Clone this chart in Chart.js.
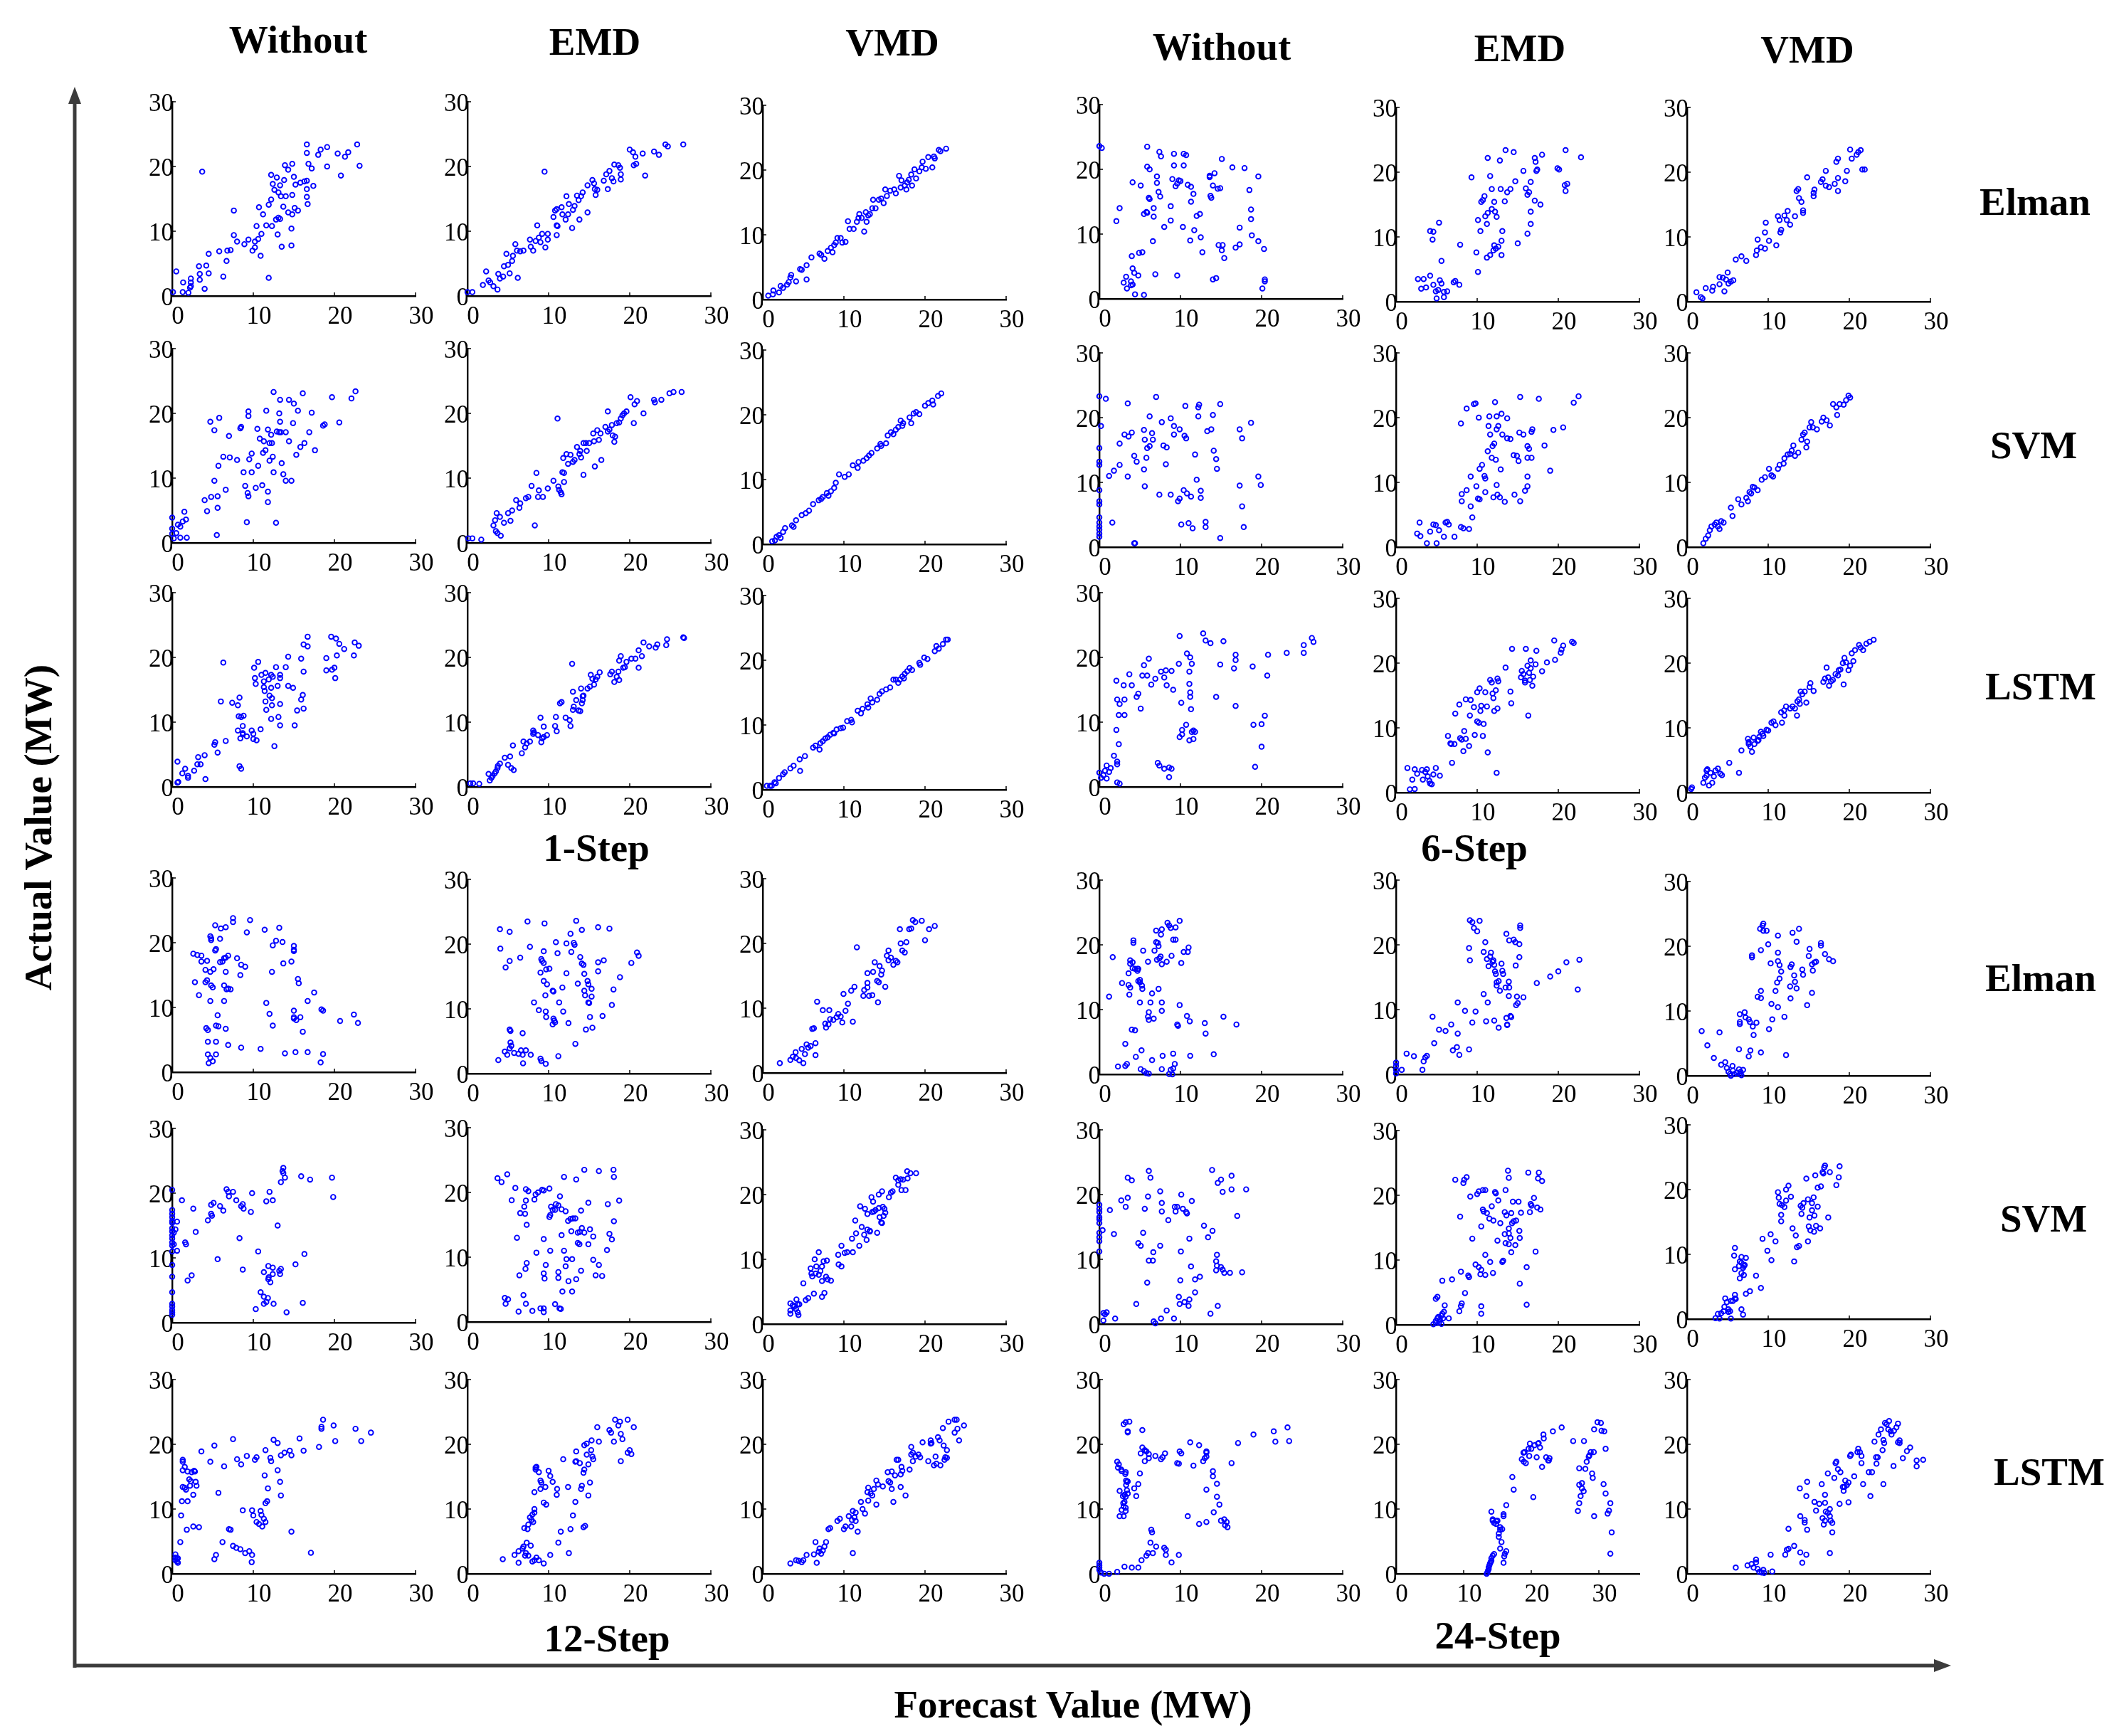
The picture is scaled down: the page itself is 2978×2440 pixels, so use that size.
<!DOCTYPE html>
<html>
<head>
<meta charset="utf-8">
<script src="https://cdn.jsdelivr.net/npm/chart.js@4.4.1/dist/chart.umd.min.js"></script>
<style>
  html, body { margin: 0; padding: 0; background: #fff; }
  #page { position: relative; width: 2978px; height: 2440px; overflow: hidden; background: #fff;
          font-family: 'Liberation Serif', 'Times New Roman', serif; }
  #page canvas { position: absolute; }
  .lbl { position: absolute; transform: translate(-50%, -50%); white-space: nowrap;
         font-weight: bold; font-size: 55px; line-height: 1; color: #000; }
  .ylab { transform: translate(-50%, -50%) rotate(-90deg); }
  svg { position: absolute; left: 0; top: 0; }
</style>
</head>
<body>
<div id="page">
  <svg width="2978" height="2440">
    <line x1="105" y1="2344" x2="105" y2="140" stroke="#3c3c3c" stroke-width="5"/>
    <polygon points="105,122 96,146 114,146" fill="#3c3c3c"/>
    <line x1="103" y1="2341" x2="2722" y2="2341" stroke="#3c3c3c" stroke-width="5"/>
    <polygon points="2742,2341 2718,2332 2718,2350" fill="#3c3c3c"/>
  </svg>
</div>
<script>
// ===== categories / ticks =====
const methods = ['Without', 'EMD', 'VMD'];
const models = ['Elman', 'SVM', 'LSTM'];
const steps = ['1-Step', '6-Step', '12-Step', '24-Step'];
const tickValues = [0, 10, 20, 30];

// ===== forecast (x) vs actual (y), MW =====
const step1ElmanWithout = [[0.5,3.8],[0.1,0.6],[1.35,2.1],[1.3,0.6],[2.0,0.5],[2.3,2.7],[2.3,2.1],[2.3,1.5],[2.2,1.3],[4.0,1.1],[3.3,4.6],[3.4,3.4],[3.4,2.5],[4.2,4.7],[4.5,3.5],[4.5,6.5],[3.7,19.2],[6.3,3.0],[5.8,6.9],[6.7,5.4],[6.8,7.0],[7.2,7.1],[7.6,13.2],[7.6,9.4],[8.0,8.4],[8.9,8.0],[9.4,8.7],[9.9,7.0],[10.2,7.5],[10.2,8.4],[10.4,10.8],[10.6,8.8],[10.9,6.2],[11.0,9.6],[11.2,12.6],[10.7,13.7],[11.6,10.9],[11.9,2.8],[11.9,14.1],[12.2,14.9],[12.2,18.7],[12.4,17.3],[12.6,16.4],[12.3,10.8],[12.8,11.8],[12.9,18.3],[13.1,16.0],[13.1,12.1],[13.0,9.5],[13.3,17.1],[13.4,15.4],[13.3,11.9],[13.7,13.8],[13.5,7.6],[13.8,17.9],[13.9,20.2],[14.0,15.4],[14.3,12.9],[14.3,19.5],[14.8,20.4],[14.7,10.4],[14.8,15.6],[14.8,12.6],[14.7,7.8],[15.0,18.4],[15.1,13.6],[15.2,17.2],[15.5,13.2],[15.8,17.5],[16.3,17.7],[16.6,23.4],[16.6,22.1],[16.6,17.8],[16.6,16.5],[16.6,15.3],[16.7,14.2],[16.8,20.4],[17.2,19.7],[17.4,17.0],[18.0,21.8],[18.3,22.6],[19.1,23.0],[19.1,20.0],[20.4,22.0],[20.8,18.6],[21.3,21.5],[21.7,22.2],[22.8,23.4],[23.1,20.1]];
const step1ElmanEMD = [[0,0.6],[0.6,0.6],[1.9,1.7],[2.3,3.8],[2.6,2.4],[2.8,2.1],[3.2,1.5],[3.7,1.0],[3.8,3.4],[4.0,2.7],[4.4,3.0],[4.5,4.6],[4.8,6.5],[5.0,4.8],[5.2,3.5],[5.5,5.4],[5.6,6.2],[5.9,8.0],[6.1,7.0],[6.2,2.8],[6.5,6.9],[6.9,7.0],[7.7,8.7],[7.8,7.6],[8.1,7.0],[8.4,8.5],[8.6,10.9],[8.8,9.0],[9.0,8.3],[9.2,9.6],[9.5,19.2],[9.6,7.5],[9.9,8.7],[9.9,9.6],[10.6,12.2],[10.8,13.2],[11.0,13.4],[11.0,10.9],[11.1,10.8],[11.0,9.4],[11.6,13.7],[11.7,12.6],[12.1,11.8],[12.2,15.4],[12.4,12.6],[12.5,14.2],[12.9,10.5],[13.0,13.3],[13.2,13.9],[13.5,15.5],[13.7,14.8],[13.8,11.8],[14.0,15.4],[14.2,16.0],[14.8,17.1],[14.8,12.9],[15.4,17.9],[15.6,17.4],[15.7,16.5],[15.8,15.6],[16.0,16.4],[16.8,17.8],[17.1,18.8],[17.3,16.5],[17.5,19.3],[17.8,18.2],[18.0,17.7],[18.1,20.3],[18.6,20.2],[18.8,19.8],[18.9,18.8],[18.9,18.0],[20.0,22.6],[20.4,22.2],[20.5,20.2],[20.7,21.5],[20.8,20.4],[21.6,22.0],[21.9,18.6],[23.0,22.3],[23.6,21.8],[24.4,23.4],[24.7,23.1],[26.6,23.4]];
const step1ElmanVMD = [[0.67,0.6],[1.3,1.4],[1.25,0.8],[2.0,1.1],[2.2,2.1],[2.5,1.8],[3.0,2.3],[3.2,2.7],[3.4,3.4],[3.5,3.8],[4.1,2.8],[4.6,4.7],[4.8,4.6],[5.4,5.3],[5.4,3.1],[6.0,6.5],[7.0,7.1],[7.2,6.9],[7.6,6.3],[8.0,7.5],[8.4,8.0],[8.6,7.3],[8.8,8.4],[9.0,8.8],[9.2,9.5],[9.6,9.5],[9.8,8.8],[10.2,8.9],[10.5,12.1],[10.7,10.9],[11.2,10.9],[11.6,12.0],[11.8,12.6],[11.9,13.2],[12.2,12.6],[12.5,10.5],[12.8,12.0],[12.7,13.5],[13.0,13.0],[13.2,13.2],[13.5,14.1],[13.6,15.4],[13.9,14.1],[14.3,15.4],[14.6,15.6],[14.9,14.9],[15.1,17.0],[15.3,16.0],[15.7,16.8],[16.2,17.0],[16.4,16.4],[16.8,19.1],[17.0,17.3],[17.1,18.4],[17.5,17.6],[17.8,18.1],[17.7,17.0],[18.0,18.5],[18.3,19.3],[18.4,17.6],[18.7,20.1],[18.9,18.7],[19.3,19.8],[19.7,21.3],[19.6,20.4],[20.1,20.2],[20.4,22.0],[20.9,20.4],[21.1,22.1],[21.2,21.8],[21.7,23.1],[21.9,22.9],[22.6,23.3]];
const step6ElmanWithout = [[0,23.6],[0.3,23.3],[5.9,23.5],[7.4,22.7],[7.6,22.0],[10.4,22.4],[10.7,22.2],[9.2,22.4],[5.9,20.4],[6.2,20.0],[9.2,20.6],[10.4,20.6],[4.1,18.0],[5.1,17.5],[7.1,18.9],[7.1,17.9],[7.3,16.5],[7.5,15.8],[9.0,18.5],[9.4,17.4],[9.6,17.8],[9.8,18.3],[10.0,18.2],[10.9,17.6],[11.3,17.3],[11.6,16.2],[13.6,18.8],[13.6,19.0],[13.7,15.9],[13.8,15.6],[14.2,19.4],[14.0,17.5],[14.6,17.0],[14.9,17.1],[16.4,20.3],[17.9,20.2],[19.6,18.9],[18.5,16.8],[15.1,21.6],[2.5,14.0],[2.1,12.0],[6.1,15.6],[6.2,15.4],[6.7,14.0],[6.7,12.7],[5.8,13.4],[5.9,13.3],[5.5,13.1],[8.8,14.3],[8.8,12.1],[11.3,15.0],[12.0,12.8],[12.4,13.1],[18.7,13.8],[18.7,12.3],[8.0,11.1],[10.3,11.1],[11.7,10.6],[17.3,11.0],[11.2,9.0],[12.5,9.5],[6.6,8.9],[4.0,6.6],[4.9,7.1],[5.3,7.2],[12.7,7.2],[14.7,8.3],[15.2,8.3],[15.1,7.5],[15.4,6.3],[16.8,7.9],[17.3,8.4],[18.8,9.8],[19.6,8.9],[20.3,7.7],[4.1,4.7],[4.3,4.0],[4.8,3.6],[3.3,3.4],[3.9,2.7],[3.0,2.5],[3.9,2.1],[3.4,1.6],[4.1,2.2],[5.5,0.6],[4.4,0.7],[6.9,3.8],[9.6,3.6],[14.0,3.0],[14.4,3.2],[20.4,3.0],[20.4,2.7],[20.1,1.6]];
const step6ElmanEMD = [[2.7,3.5],[3.4,3.5],[3.1,2.0],[3.7,2.2],[4.2,4.0],[4.6,2.6],[4.9,1.6],[5.0,0.5],[5.2,1.8],[5.4,3.3],[5.6,2.8],[5.9,0.7],[5.9,1.5],[6.3,1.6],[7.1,3.0],[7.3,3.2],[7.8,2.6],[4.2,10.9],[4.5,9.6],[4.6,10.8],[5.3,12.2],[5.6,6.3],[7.9,8.8],[9.3,19.2],[10.1,4.6],[9.9,7.6],[10.1,12.6],[10.4,10.9],[10.5,15.4],[10.7,15.7],[10.9,16.3],[11.0,13.2],[11.2,12.0],[11.3,13.7],[11.2,6.8],[11.6,7.2],[12.0,7.9],[12.1,8.7],[12.2,13.9],[11.8,14.3],[12.1,15.4],[12.4,13.1],[12.3,8.2],[12.6,8.5],[13.0,9.4],[13.0,7.2],[13.1,10.9],[13.4,15.5],[13.7,16.9],[14.1,17.4],[12.9,17.4],[12.8,21.8],[11.8,17.4],[11.3,22.2],[11.6,19.4],[13.5,23.4],[14.5,23.1],[14.7,18.6],[15.0,9.0],[15.7,20.2],[16.0,17.5],[16.2,16.5],[16.2,10.5],[16.6,18.5],[16.6,13.9],[16.6,12.0],[17.1,22.2],[17.2,21.6],[17.1,15.6],[17.3,20.2],[17.4,20.4],[17.8,15.0],[18.0,22.7],[19.9,20.6],[20.1,20.4],[20.8,18.0],[21.1,18.2],[20.9,17.1],[22.8,22.3],[16.4,16.9],[20.9,23.4]];
const step6ElmanVMD = [[1.15,1.45],[1.7,0.7],[1.9,0.5],[2.3,2.1],[3.1,1.7],[3.2,2.3],[4.0,2.7],[4.0,3.8],[4.4,3.7],[4.8,3.4],[4.6,1.6],[5.0,4.5],[5.1,2.8],[5.4,3.1],[5.7,3.3],[6.0,6.5],[6.7,7.0],[7.3,6.3],[8.5,7.2],[8.6,7.9],[8.7,9.6],[9.1,8.4],[9.6,8.2],[9.6,10.7],[9.7,12.2],[10.1,9.4],[11.0,8.7],[11.2,13.2],[11.4,12.6],[11.5,10.7],[11.6,11.1],[12.0,13.3],[12.3,12.6],[12.4,14.0],[12.7,11.9],[13.3,13.2],[13.5,17.1],[13.7,17.4],[13.8,16.0],[14.1,15.4],[14.3,14.1],[14.3,13.7],[14.8,19.2],[15.6,16.3],[15.6,16.8],[15.7,17.3],[16.5,18.5],[16.7,18.9],[17.1,17.9],[17.1,20.2],[17.5,17.7],[18.2,18.2],[18.6,19.1],[18.6,17.1],[19.5,18.6],[19.7,20.2],[18.4,21.6],[18.6,22.1],[20.3,22.1],[20.9,22.7],[21.1,23.1],[21.6,20.4],[21.9,20.4],[20.1,23.5],[21.4,23.4]];

const step1SvmWithout = [[0,3.9],[0,2.2],[0,1.4],[0.2,0.7],[0.5,1.5],[0.7,2.8],[1.0,2.5],[1.3,3.3],[1.5,4.8],[1.7,3.6],[1.8,0.8],[1.0,0.8],[4.0,6.6],[4.3,4.9],[4.8,7.1],[5.2,9.6],[5.6,7.2],[5.7,11.9],[5.6,5.4],[5.5,1.2],[4.7,18.7],[5.2,17.4],[5.8,19.3],[6.3,13.3],[6.6,8.2],[7.0,16.5],[7.1,13.2],[8.0,12.8],[8.4,17.7],[8.5,17.9],[8.8,10.9],[9.0,8.8],[9.2,3.2],[9.3,7.7],[9.4,7.2],[9.5,12.9],[9.4,19.6],[9.4,20.3],[9.8,13.8],[9.8,10.9],[10.3,8.5],[10.5,17.6],[10.6,11.9],[10.8,16.1],[11.1,8.9],[11.2,13.9],[11.3,15.7],[11.5,14.3],[11.6,20.4],[11.8,17.5],[11.8,7.9],[11.8,6.3],[12.0,12.7],[12.0,15.4],[12.2,16.7],[12.3,15.4],[12.4,13.3],[12.5,10.9],[12.5,23.3],[12.8,3.1],[12.9,17.2],[13.2,17.1],[13.2,20.0],[13.3,18.7],[13.3,22.1],[13.4,17.1],[13.5,12.3],[13.7,10.6],[14.0,9.6],[14.0,17.1],[14.4,15.7],[14.4,22.1],[14.7,9.6],[14.9,18.5],[15.0,21.5],[15.3,13.6],[15.5,20.4],[15.8,14.8],[16.1,23.1],[16.3,15.4],[16.9,17.1],[17.2,20.1],[17.6,14.3],[18.6,18.1],[18.8,18.3],[19.7,22.5],[20.6,18.6],[22.1,22.3],[22.6,23.4]];
const step1SvmEMD = [[0.1,0.7],[0.6,0.7],[1.7,0.5],[3.2,2.7],[3.4,3.5],[3.5,1.8],[3.7,1.5],[4.1,1.1],[4.0,4.0],[3.6,4.6],[4.5,3.1],[5.0,4.6],[5.3,3.4],[5.5,5.0],[6.0,6.6],[6.4,5.4],[6.5,6.1],[7.2,6.9],[7.5,7.1],[7.9,8.8],[8.3,2.7],[8.5,10.8],[8.8,8.1],[8.7,7.1],[9.3,7.1],[9.9,8.4],[10.6,9.6],[11.1,19.2],[11.2,8.7],[11.3,8.2],[11.5,7.8],[11.6,7.5],[11.7,10.9],[11.9,10.8],[11.9,9.4],[11.8,13.1],[12.2,13.7],[12.4,12.2],[12.7,13.6],[13.0,12.5],[13.2,12.8],[13.5,14.8],[13.8,13.7],[14.0,13.2],[13.9,14.2],[14.3,10.5],[14.3,15.4],[14.6,15.4],[14.7,14.2],[15.0,15.4],[15.5,16.9],[15.6,15.7],[15.7,11.8],[16.0,17.4],[16.2,15.9],[16.5,12.8],[16.4,16.9],[17.0,17.9],[17.3,20.3],[17.3,17.2],[17.5,17.5],[17.8,18.2],[17.9,16.6],[18.1,15.6],[18.2,16.4],[18.4,18.5],[18.7,18.6],[18.9,19.2],[19.1,19.7],[19.3,20.0],[19.6,20.3],[20.1,22.5],[20.5,18.5],[20.6,21.4],[20.9,21.9],[21.7,20.0],[23.0,22.1],[23.1,21.7],[23.9,22.1],[24.9,23.1],[25.4,23.3],[26.4,23.3]];
const step1SvmVMD = [[1.16,0.46],[1.5,0.6],[1.7,1.15],[2.0,1.4],[2.2,1.0],[2.5,1.9],[2.75,2.5],[3.6,2.9],[3.8,2.7],[4.1,3.7],[4.8,4.5],[5.3,4.8],[5.7,5.2],[6.2,6.2],[6.9,6.8],[7.2,7.0],[7.4,7.3],[7.9,7.9],[8.1,7.5],[8.4,8.2],[8.8,8.7],[9.0,9.5],[9.4,10.8],[10.1,10.4],[10.6,10.8],[11.1,12.2],[11.7,11.8],[11.8,12.7],[12.4,12.9],[12.8,13.3],[13.1,13.7],[13.4,14.1],[14.1,14.8],[14.5,15.5],[14.6,15.2],[15.2,15.6],[15.4,16.8],[15.8,17.3],[16.1,17.0],[16.4,17.7],[16.7,18.1],[17.0,19.1],[17.2,18.3],[17.3,18.7],[18.1,19.6],[18.3,18.7],[18.6,20.2],[18.9,20.4],[19.3,20.1],[20.0,21.4],[20.4,21.8],[20.9,22.2],[21.0,21.6],[21.6,22.9],[22.0,23.3]];
const step6SvmWithout = [[0,1.6],[0,2.1],[0,2.7],[0,3.2],[0,3.8],[0,4.6],[0,6.6],[0,7.1],[0,8.8],[0,12.7],[0,13.2],[0,15.3],[0.2,18.7],[0,23.3],[0.8,22.9],[1.2,11.0],[1.8,11.8],[2.5,12.7],[2.5,16.0],[3.5,10.9],[3.1,17.4],[3.6,17.1],[4.0,17.7],[4.3,14.1],[4.6,13.2],[3.5,22.2],[5.5,12.0],[5.6,16.6],[5.6,9.4],[5.5,18.1],[5.8,13.8],[5.9,15.3],[6.2,15.6],[6.5,17.6],[6.6,16.6],[7.0,23.2],[6.2,20.2],[7.4,8.1],[7.7,19.3],[8.2,12.8],[7.9,15.7],[8.3,15.4],[8.8,8.1],[8.8,19.9],[9.2,18.7],[9.7,7.1],[9.2,17.4],[9.9,7.5],[9.9,18.2],[10.4,8.8],[10.5,17.2],[10.7,16.8],[10.6,21.8],[10.8,8.3],[11.3,7.8],[11.8,14.3],[12.0,10.4],[12.2,20.2],[12.2,21.6],[12.5,8.7],[12.5,7.6],[12.3,22.0],[13.3,17.9],[13.8,18.2],[14.0,20.4],[14.1,14.9],[14.4,13.6],[14.5,12.1],[14.9,22.1],[17.3,9.5],[17.6,6.3],[17.3,18.2],[17.6,16.8],[18.7,19.2],[19.6,10.9],[19.9,9.6],[13.1,3.9],[11.5,2.9],[11.0,3.7],[10.1,3.5],[13.1,3.1],[14.9,1.4],[17.8,3.1],[1.6,3.8],[4.3,0.6],[4.4,0.6]];
const step6SvmEMD = [[2.6,2.1],[3.0,1.7],[2.9,3.8],[3.8,0.6],[4.2,2.4],[4.6,3.5],[4.9,3.4],[5.0,0.6],[5.3,2.6],[5.9,1.6],[6.1,3.8],[6.3,3.9],[6.5,3.5],[7.2,1.6],[8.0,3.1],[8.3,2.9],[9.0,2.8],[8.0,19.1],[8.1,8.2],[8.1,7.1],[8.7,21.4],[8.7,8.8],[9.2,6.3],[9.4,4.6],[9.2,10.9],[9.6,22.1],[9.8,22.2],[9.9,9.4],[10.2,20.0],[10.1,7.5],[10.3,12.1],[10.3,7.4],[10.6,12.7],[10.9,11.0],[11.0,10.6],[11.0,8.5],[11.3,14.8],[11.4,18.7],[11.5,20.2],[11.6,17.4],[11.8,13.8],[11.9,15.6],[12.0,7.7],[12.1,16.0],[12.2,22.4],[12.4,18.2],[12.3,13.5],[12.4,20.2],[12.4,9.6],[12.5,8.1],[12.6,18.7],[12.8,7.7],[12.9,12.0],[13.0,20.6],[13.1,17.4],[13.4,7.0],[13.7,19.9],[13.7,16.8],[14.1,16.7],[14.5,14.2],[14.6,8.1],[14.9,14.1],[15.1,13.3],[15.2,17.7],[15.3,23.2],[15.3,7.1],[15.7,17.4],[15.9,8.7],[16.2,10.9],[16.2,15.6],[16.2,9.4],[16.2,13.8],[16.4,15.2],[16.7,17.8],[16.7,13.8],[16.8,18.2],[17.6,22.9],[18.3,15.7],[19.0,11.8],[19.4,18.1],[20.6,18.5],[21.9,22.3],[22.5,23.3]];
const step6SvmVMD = [[2.0,0.6],[2.3,1.3],[2.6,1.8],[2.8,2.6],[3.0,3.2],[3.4,3.5],[3.8,3.2],[3.6,3.8],[4.0,2.8],[4.2,4.0],[4.5,3.8],[5.6,4.8],[5.4,6.1],[6.3,7.4],[6.7,6.6],[7.3,7.6],[7.7,8.5],[7.9,8.3],[7.5,7.1],[8.1,9.3],[8.3,9.2],[8.7,8.8],[9.2,10.4],[9.6,10.8],[10.1,12.1],[10.4,11.1],[10.6,10.9],[11.2,12.1],[11.4,12.7],[11.9,12.9],[12.0,13.7],[12.4,14.3],[12.7,14.4],[12.9,14.9],[13.1,15.7],[13.3,14.1],[13.7,14.6],[14.1,16.6],[14.3,17.4],[14.5,17.7],[14.7,15.4],[14.8,16.3],[15.1,18.5],[15.3,19.3],[15.5,18.5],[16.0,18.2],[16.6,19.4],[16.8,20.0],[17.2,19.6],[17.6,18.8],[18.0,22.1],[18.4,21.6],[18.5,20.4],[18.8,22.1],[19.3,22.0],[19.6,22.7],[19.9,23.4],[20.1,23.1]];

const step1LstmWithout = [[0.65,0.65],[0.75,0.76],[0.65,3.9],[1.25,2.1],[1.6,2.8],[1.95,1.7],[1.95,1.4],[2.7,2.5],[3.2,4.6],[3.1,3.5],[3.5,3.5],[4.0,4.9],[4.1,1.2],[5.2,6.5],[5.3,6.9],[5.6,5.3],[6.6,7.1],[6.0,13.2],[6.3,19.2],[7.4,13.0],[8.1,12.6],[8.3,13.8],[8.2,10.9],[8.4,7.5],[8.5,10.8],[8.7,9.4],[8.8,11.0],[8.7,8.3],[8.7,8.1],[8.1,8.7],[8.3,3.2],[8.5,2.8],[9.2,7.8],[9.8,8.7],[10.0,7.4],[10.4,7.2],[10.0,8.2],[10.1,18.4],[10.2,16.8],[10.3,15.9],[10.6,19.3],[10.9,8.9],[11.0,17.3],[11.3,16.3],[11.3,15.4],[11.4,14.8],[11.5,13.2],[11.5,17.6],[11.6,11.9],[11.9,16.6],[12.0,14.1],[12.2,10.5],[12.2,17.3],[12.3,13.7],[12.2,15.3],[12.3,12.6],[12.4,17.0],[12.6,6.3],[12.8,18.5],[13.0,15.6],[13.1,10.8],[13.3,17.3],[13.3,16.8],[13.3,12.8],[13.3,9.5],[14.0,18.5],[14.3,20.1],[14.3,15.6],[14.9,15.3],[15.1,9.5],[15.4,11.8],[15.9,19.8],[15.9,13.5],[16.1,14.2],[16.2,12.1],[16.2,17.8],[16.2,22.0],[16.7,23.2],[16.7,21.7],[19.0,19.9],[19.0,18.0],[19.7,18.1],[19.6,23.2],[20.0,18.4],[20.1,16.8],[20.2,22.9],[20.3,20.3],[20.6,22.1],[21.2,21.3],[22.4,20.3],[22.5,22.3],[23.0,21.8]];
const step1LstmEMD = [[0.35,0.54],[0.7,0.54],[1.45,0.47],[2.6,2.0],[2.75,1.0],[2.95,1.4],[3.1,1.7],[3.35,2.1],[3.5,2.4],[3.7,2.9],[3.75,3.25],[4.0,3.6],[4.6,4.5],[5.0,3.4],[5.25,4.7],[5.4,2.9],[5.7,2.6],[5.6,6.4],[6.7,5.2],[6.9,7.0],[7.1,6.1],[7.3,6.7],[7.7,7.0],[8.1,8.7],[8.1,8.2],[8.2,8.4],[8.7,8.0],[9.0,10.7],[9.1,6.9],[9.2,7.5],[9.4,7.7],[9.4,9.3],[9.8,8.0],[10.8,9.4],[10.9,10.8],[11.0,8.6],[11.4,12.9],[11.6,13.1],[12.1,10.7],[12.6,10.3],[12.7,9.4],[13.0,11.9],[13.1,12.4],[13.0,14.7],[12.9,19.0],[13.4,13.4],[13.7,11.8],[13.9,11.7],[14.1,12.9],[14.2,13.4],[14.2,14.0],[14.0,15.2],[14.3,14.1],[14.8,15.2],[15.1,15.5],[15.2,17.3],[15.4,16.7],[15.6,15.8],[15.8,16.6],[16.0,17.0],[16.3,17.7],[17.6,17.4],[17.8,17.8],[18.1,16.2],[18.4,17.0],[18.7,16.5],[18.6,17.8],[18.7,19.5],[18.9,20.2],[19.2,18.4],[19.4,18.5],[19.6,19.3],[20.2,19.8],[20.7,19.8],[21.1,18.4],[21.1,21.1],[21.5,20.2],[21.7,22.3],[22.4,21.7],[23.2,21.5],[23.4,22.0],[24.5,21.9],[24.6,22.8],[26.6,23.1],[26.7,23.0]];
const step1LstmVMD = [[0.5,0.6],[0.9,0.6],[1.1,0.6],[1.45,1.15],[1.6,1.0],[2.0,1.8],[2.5,2.4],[2.7,2.7],[3.4,3.3],[3.8,3.7],[4.6,2.9],[4.55,4.7],[5.2,5.2],[6.2,6.5],[6.5,6.8],[7.0,6.2],[7.1,7.2],[7.4,7.5],[7.7,7.9],[8.0,8.1],[8.3,8.5],[8.7,8.8],[8.8,8.7],[9.1,9.3],[9.6,9.5],[9.9,9.6],[10.4,10.6],[10.9,10.8],[11.0,10.4],[11.7,12.2],[12.1,11.8],[12.3,12.5],[12.9,13.2],[13.0,12.7],[13.3,14.1],[13.5,13.5],[14.1,13.9],[14.4,14.8],[14.7,15.2],[15.2,15.5],[15.7,15.8],[16.1,17.0],[16.4,17.0],[16.7,16.5],[16.9,17.0],[17.2,17.5],[17.4,17.2],[17.5,17.9],[17.8,18.3],[18.1,18.8],[18.4,18.5],[19.3,19.6],[19.4,19.3],[19.9,20.4],[20.3,20.2],[21.2,21.4],[21.4,22.2],[21.7,21.8],[22.2,22.5],[22.6,23.2],[22.8,23.2]];
const step6LstmWithout = [[0,2.2],[0.2,1.4],[0.5,1.8],[0.7,2.5],[0.9,3.3],[0.9,1.3],[1.2,2.3],[1.4,2.9],[1.8,4.8],[2.2,3.9],[2.2,3.5],[2.2,0.7],[2.5,0.5],[2.1,8.8],[2.4,6.6],[2.4,11.1],[3.1,11.1],[2.2,13.5],[2.5,12.8],[3.1,13.5],[2.1,16.4],[3.0,15.7],[3.7,17.4],[4.0,15.7],[4.6,13.9],[4.8,14.4],[5.1,12.1],[5.5,18.8],[5.3,17.2],[5.9,17.2],[6.4,15.8],[6.1,19.8],[6.9,16.7],[7.6,17.8],[8.0,16.9],[8.3,15.7],[8.2,18.0],[8.9,17.9],[9.1,15.0],[9.8,19.0],[9.9,23.3],[10.1,13.0],[10.2,8.8],[9.9,7.7],[10.2,8.1],[10.7,9.6],[10.8,20.6],[11.1,17.8],[11.1,7.2],[11.2,20.0],[11.1,15.9],[11.2,14.6],[11.2,13.9],[11.3,12.0],[11.4,8.5],[11.6,8.7],[11.6,7.4],[11.4,19.0],[11.8,8.5],[7.2,3.7],[7.4,3.3],[8.0,2.8],[8.6,3.0],[8.9,2.8],[8.6,1.5],[12.8,23.7],[13.1,22.6],[13.7,22.2],[14.4,13.9],[14.9,18.9],[15.3,22.5],[16.6,18.3],[16.8,12.5],[16.8,20.4],[16.8,19.6],[18.9,18.6],[19.0,9.6],[19.2,3.1],[20.0,9.7],[20.0,6.2],[20.4,11.0],[20.7,17.2],[20.8,20.4],[23.1,20.7],[25.2,21.9],[25.2,20.7],[26.2,23.0],[26.4,22.4]];
const step6LstmEMD = [[1.4,3.8],[1.7,0.5],[2.0,2.0],[2.3,0.55],[2.3,3.6],[2.6,2.9],[3.2,3.5],[3.3,2.0],[3.6,3.2],[3.8,3.6],[3.9,2.5],[4.1,1.8],[4.2,1.4],[4.4,1.3],[4.6,2.8],[4.9,3.8],[5.4,2.6],[6.9,4.6],[6.4,8.75],[6.7,7.6],[6.8,7.5],[7.2,7.5],[7.3,12.2],[7.8,13.6],[7.9,8.4],[8.1,8.2],[8.3,6.4],[8.4,9.5],[8.6,8.3],[8.6,14.4],[9.1,11.9],[9.2,14.3],[9.0,7.2],[9.6,13.2],[9.7,8.9],[10.0,15.5],[10.0,11.0],[10.3,16.1],[10.4,12.6],[10.2,10.8],[10.5,13.4],[10.7,8.75],[10.8,10.6],[11.0,15.5],[11.2,13.3],[11.3,6.2],[11.6,17.4],[11.8,17.0],[11.9,15.3],[12.0,14.6],[12.1,12.6],[12.3,15.8],[12.5,13.0],[12.5,17.6],[12.6,17.2],[13.5,19.3],[14.1,15.6],[14.2,13.8],[14.3,22.2],[15.4,17.8],[15.5,18.8],[15.7,18.3],[15.9,17.3],[15.9,17.0],[16.0,22.2],[16.2,19.6],[16.4,18.5],[16.5,17.4],[16.3,11.9],[16.6,19.2],[16.6,20.4],[16.8,16.5],[16.9,17.9],[17.2,19.8],[17.3,21.9],[18.0,18.75],[18.6,20.1],[19.5,23.5],[19.6,20.5],[20.3,21.6],[20.4,22.1],[20.6,22.7],[21.7,23.3],[21.9,23.1],[12.4,3.05]];
const step6LstmVMD = [[0.5,0.55],[0.6,0.8],[2.0,1.5],[2.2,2.3],[2.4,2.6],[2.4,3.4],[2.5,3.6],[2.7,1.1],[2.9,3.05],[3.1,1.5],[3.3,2.5],[3.5,3.4],[3.8,3.7],[4.1,2.9],[4.3,2.7],[5.2,4.6],[6.4,3.05],[6.7,6.5],[7.5,8.3],[7.6,7.8],[7.6,7.5],[7.8,7.1],[8.0,6.3],[8.2,8.5],[8.3,7.5],[8.7,8.0],[8.8,8.1],[8.9,8.6],[9.1,9.4],[9.3,9.1],[9.4,8.75],[9.8,9.7],[10.0,9.6],[10.4,10.8],[10.65,11.0],[10.9,10.4],[11.6,12.4],[11.7,10.8],[11.96,12.7],[12.0,11.9],[12.2,13.3],[12.7,13.0],[13.0,13.3],[13.3,13.0],[13.6,14.1],[13.55,11.9],[13.8,14.4],[13.9,13.7],[14.0,15.6],[14.2,15.2],[14.5,15.6],[14.7,13.9],[15.1,16.3],[15.2,16.9],[15.6,15.7],[16.8,17.1],[17.0,17.6],[17.2,19.3],[17.4,17.8],[17.5,16.5],[17.75,17.2],[17.97,17.4],[18.3,18.3],[18.6,18.1],[18.7,18.9],[18.9,19.0],[19.2,20.0],[19.3,16.7],[19.4,20.8],[19.6,20.1],[19.9,18.9],[20.1,19.6],[20.3,21.5],[20.5,20.3],[20.7,22.0],[21.2,22.8],[21.4,22.4],[21.7,22.0],[22.1,23.0],[22.5,23.3],[23.0,23.6]];

const step12ElmanWithout = [[2.6,18.3],[3.1,18.1],[3.6,18.0],[4.3,17.2],[3.6,17.1],[4.7,21.0],[4.8,20.7],[4.8,20.4],[5.3,22.7],[6.0,22.2],[5.9,20.6],[6.6,22.4],[7.5,23.8],[7.5,23.2],[9.6,23.5],[9.2,21.6],[11.4,22.0],[13.2,22.3],[12.4,19.6],[12.8,20.3],[13.6,20.1],[15.0,19.5],[15.0,18.9],[15.0,18.7],[5.3,18.8],[5.4,19.0],[4.1,15.8],[4.7,15.5],[5.1,15.9],[5.9,17.0],[6.2,17.1],[6.4,17.6],[6.6,17.7],[6.9,18.0],[8.0,17.6],[8.5,16.6],[9.0,16.3],[8.4,15.0],[6.6,15.5],[12.3,15.5],[13.7,16.8],[14.7,17.1],[2.8,13.9],[4.1,13.9],[4.3,14.2],[4.8,13.4],[5.0,13.1],[3.3,11.9],[6.4,13.4],[6.7,12.8],[6.9,12.9],[7.2,12.8],[15.5,14.4],[15.6,13.75],[17.5,12.3],[4.7,11.0],[6.4,11.0],[11.6,10.7],[16.7,11.0],[5.6,8.8],[12.0,9.0],[15.0,9.5],[18.4,9.7],[18.6,9.5],[22.4,8.9],[20.7,7.9],[22.9,7.6],[15.0,8.5],[15.0,8.3],[15.3,8.05],[15.8,8.5],[12.4,7.2],[4.2,6.8],[4.4,6.5],[5.4,7.2],[5.7,7.1],[6.6,6.7],[16.1,6.25],[4.4,4.7],[5.4,4.7],[6.9,4.2],[8.5,3.8],[10.9,3.6],[13.9,2.9],[15.2,3.1],[16.7,3.1],[18.6,2.8],[18.3,1.5],[4.4,2.75],[4.7,2.2],[4.5,1.4],[5.0,1.7],[5.4,2.75]];
const step12ElmanEMD = [[4.0,22.3],[4.05,19.3],[5.2,21.9],[7.4,23.5],[9.5,23.2],[13.4,23.6],[16.1,22.6],[17.5,22.4],[12.7,21.6],[14.1,22.2],[10.9,20.3],[12.2,20.1],[13.1,20.2],[13.2,19.9],[7.7,19.6],[9.4,18.9],[11.1,18.6],[12.8,18.8],[6.5,17.9],[5.2,17.4],[4.7,16.4],[9.1,17.7],[9.2,17.4],[9.4,17.1],[9.0,15.6],[9.7,16.1],[10.1,16.2],[13.9,18.0],[14.1,17.0],[14.3,16.8],[16.1,17.2],[16.8,17.5],[16.1,15.8],[12.2,15.5],[14.4,15.4],[20.2,17.1],[20.9,18.7],[21.1,18.2],[18.8,14.9],[9.4,14.3],[9.8,13.8],[10.5,12.8],[10.6,12.7],[11.7,13.3],[13.6,13.9],[14.8,14.3],[14.9,13.8],[15.3,13.1],[14.4,12.8],[14.5,12.1],[15.3,11.9],[9.6,12.1],[14.9,11.0],[15.0,10.9],[18.0,13.0],[17.8,10.6],[8.2,11.0],[8.8,9.8],[11.3,11.0],[9.65,9.6],[11.8,9.6],[15.1,8.75],[16.65,8.9],[9.7,8.75],[10.6,8.5],[10.7,8.2],[10.8,7.9],[10.5,7.6],[12.45,7.8],[14.6,6.8],[15.4,7.1],[5.2,6.8],[5.3,6.6],[6.8,6.25],[13.3,4.6],[5.3,4.8],[5.4,4.3],[5.2,3.9],[4.6,3.4],[4.9,2.9],[5.75,3.2],[6.3,3.05],[6.6,3.6],[6.8,2.9],[7.2,3.6],[7.8,2.9],[6.85,1.6],[9.0,2.3],[9.1,1.95],[9.65,1.5],[11.2,2.7],[3.8,2.1]];
const step12ElmanVMD = [[2.1,1.5],[3.4,2.0],[3.7,2.5],[4.05,3.2],[4.1,2.3],[4.5,1.95],[4.8,3.7],[5.0,1.5],[5.2,2.9],[5.4,4.4],[5.6,3.9],[5.9,4.15],[6.3,6.9],[6.5,2.75],[6.5,4.6],[6.1,6.8],[6.7,11.0],[7.4,9.7],[7.7,7.6],[7.8,7.0],[8.1,7.5],[8.2,9.7],[8.3,8.3],[8.7,8.2],[9.1,8.6],[9.3,9.1],[9.6,8.7],[9.8,7.8],[10.2,9.6],[9.95,12.2],[10.5,10.7],[10.9,12.7],[11.1,7.9],[11.3,13.3],[11.6,19.4],[12.4,11.9],[12.5,12.8],[12.9,13.2],[12.9,13.9],[12.9,15.4],[13.1,11.9],[13.5,12.0],[13.6,15.6],[13.8,17.1],[14.1,14.2],[14.2,10.9],[14.3,14.0],[14.4,16.5],[14.6,15.2],[14.7,15.8],[15.1,13.3],[15.3,18.1],[15.5,17.4],[15.5,18.9],[15.8,17.8],[16.1,16.7],[16.4,17.3],[16.6,17.1],[16.9,22.2],[17.0,20.0],[17.2,18.9],[17.5,18.6],[17.7,20.2],[18.05,22.2],[18.3,22.3],[18.5,23.6],[18.8,23.3],[19.6,23.5],[20.0,20.5],[20.5,22.2],[21.2,22.7]];
const step24ElmanWithout = [[1.65,18.1],[1.2,12.0],[2.3,1.2],[2.8,14.1],[3.2,1.3],[3.4,1.6],[3.2,4.7],[3.6,15.6],[3.6,13.8],[3.8,13.4],[3.7,12.3],[3.8,17.1],[3.8,17.6],[4.0,6.9],[4.1,17.3],[4.1,16.4],[4.2,20.3],[4.2,20.7],[4.4,16.3],[4.4,6.8],[4.5,2.7],[4.7,16.3],[4.7,16.0],[4.8,16.3],[4.8,14.4],[5.0,14.6],[5.0,14.2],[5.0,11.1],[5.1,0.8],[5.2,3.7],[5.25,13.7],[5.3,13.2],[5.4,19.1],[5.5,0.5],[5.8,0.2],[6.1,0.1],[6.0,17.4],[6.0,8.9],[6.1,9.6],[6.1,8.4],[6.3,11.1],[6.5,2.2],[6.5,12.5],[6.7,8.6],[6.8,19.1],[7.0,20.4],[7.0,22.2],[7.1,17.7],[7.2,20.3],[7.3,19.8],[7.3,13.2],[7.4,17.9],[7.55,18.2],[7.6,21.6],[7.7,22.4],[7.7,11.1],[7.7,9.8],[7.7,17.0],[7.7,0.8],[7.8,2.85],[8.3,17.4],[8.4,23.4],[8.6,23.0],[8.8,22.6],[8.9,18.3],[9.1,3.2],[9.1,0.9],[9.4,22.7],[9.1,20.8],[9.4,20.8],[9.3,1.6],[8.8,0.7],[9.0,0],[8.6,0.05],[9.6,7.7],[9.7,7.5],[9.9,23.7],[9.9,10.7],[10.1,17.2],[10.4,18.9],[10.8,9.0],[10.9,18.9],[11.0,19.6],[11.15,8.2],[11.2,2.85],[13.0,7.9],[13.1,6.3],[14.1,3.1],[15.3,8.9],[16.9,7.7]];
const step24ElmanEMD = [[0,1.8],[0,1.3],[0,0.7],[0,0.15],[0.7,0.7],[1.3,3.2],[2.2,2.8],[3.25,0.7],[3.4,2.0],[3.6,2.6],[3.8,2.85],[4.7,4.8],[4.5,8.9],[5.3,6.9],[6.1,6.7],[6.8,7.7],[7.0,3.7],[7.5,4.2],[7.6,6.3],[7.8,3.0],[7.6,11.1],[8.5,9.8],[9.0,3.85],[9.0,19.5],[9.1,17.6],[9.4,8.0],[9.8,9.7],[10.0,22.1],[9.1,23.8],[9.4,23.5],[9.6,22.6],[10.3,23.7],[11.0,20.4],[10.8,18.9],[11.2,17.8],[11.4,16.7],[11.6,18.2],[11.7,18.8],[11.9,17.4],[12.0,17.6],[12.1,16.9],[10.8,12.4],[11.3,11.1],[11.1,8.2],[12.1,8.3],[12.2,15.9],[12.3,15.5],[12.4,14.2],[12.4,13.7],[12.65,14.4],[12.65,7.2],[12.8,12.9],[13.0,17.1],[13.1,16.0],[13.2,15.5],[13.5,13.4],[13.6,8.7],[13.7,7.7],[13.7,7.6],[13.9,14.3],[13.95,13.4],[13.9,12.1],[14.1,9.0],[14.2,8.85],[13.6,21.7],[13.95,20.7],[14.5,20.8],[14.7,20.4],[14.75,16.8],[15.2,18.1],[15.2,20.1],[15.3,23.0],[15.3,22.6],[14.9,12.0],[15.0,11.0],[14.8,10.7],[15.7,11.9],[17.35,14.1],[19.0,15.1],[20.0,15.9],[21.0,17.3],[22.6,17.7],[22.4,13.1]];
const step24ElmanVMD = [[1.8,6.9],[2.5,4.7],[3.3,2.75],[4.0,6.7],[4.2,1.7],[4.7,2.1],[4.9,1.2],[5.1,0.6],[5.3,0.3],[5.4,0],[5.6,1.5],[5.65,0.8],[5.8,0.25],[6.1,0.45],[6.4,1.0],[6.5,0.25],[6.6,0.6],[6.7,0.07],[6.9,0.9],[6.4,4.1],[6.5,8.0],[6.5,8.3],[6.5,9.5],[7.1,9.8],[7.2,9.0],[7.6,8.7],[7.6,3.0],[7.75,8.3],[7.8,3.9],[8.1,7.6],[8.2,6.3],[8.55,8.2],[8.7,12.2],[9.1,3.6],[9.1,12.0],[8.0,18.6],[8.0,18.3],[9.1,13.1],[9.1,19.4],[9.3,23.2],[9.4,23.5],[9.0,22.7],[9.4,22.4],[9.8,22.4],[10.1,7.2],[10.0,20.3],[10.3,17.35],[10.5,8.7],[10.4,11.1],[10.9,13.1],[11.2,17.7],[11.1,14.4],[11.2,21.65],[11.2,19.0],[11.2,10.6],[11.4,15.0],[11.4,17.1],[11.6,16.1],[12.0,9.1],[12.2,3.2],[12.7,13.8],[12.75,11.95],[12.75,16.8],[12.9,17.2],[13.0,22.1],[13.2,15.5],[13.3,14.5],[13.5,20.7],[13.5,13.5],[13.8,22.7],[14.2,16.4],[14.3,15.6],[14.8,10.9],[15.0,18.5],[15.1,19.6],[15.4,12.8],[15.4,17.2],[15.5,16.25],[15.7,17.5],[15.9,17.6],[16.5,20.1],[16.5,20.5],[17.0,18.8],[17.5,18.0],[18.0,17.7]];

const step12SvmWithout = [[0,1.2],[0,1.6],[0,1.95],[0,2.5],[0,2.9],[0,4.7],[0,7.1],[0,8.9],[0,11.0],[0,11.9],[0,12.4],[0,13.0],[0,13.5],[0,14.1],[0,14.6],[0,15.4],[0,15.7],[0,16.3],[0,16.8],[0,17.4],[0,20.5],[0.2,13.9],[0.4,14.4],[0.6,15.6],[0.6,11.1],[0.2,12.1],[1.2,18.9],[1.6,12.4],[1.7,12.1],[1.9,6.5],[2.4,7.3],[2.6,17.6],[2.9,14.0],[4.4,15.8],[4.8,16.8],[4.9,16.5],[4.8,18.2],[5.1,18.5],[5.6,9.8],[5.9,18.0],[6.3,17.3],[6.7,20.6],[6.9,20.2],[7.0,19.5],[7.5,20.2],[7.9,18.9],[8.3,13.05],[8.5,18.0],[8.7,18.3],[8.7,8.2],[8.8,17.6],[9.7,17.1],[9.85,20.0],[10.3,2.1],[10.6,11.0],[10.9,4.7],[11.3,4.0],[11.3,7.8],[11.3,2.9],[11.6,18.75],[11.6,3.2],[11.8,3.8],[11.85,8.75],[11.85,6.7],[11.9,7.0],[12.0,20.2],[12.1,6.25],[12.4,7.5],[12.4,8.5],[12.4,18.9],[12.5,2.9],[13.0,15.0],[13.2,8.0],[13.3,7.5],[13.4,21.7],[13.4,8.3],[13.6,23.4],[13.7,23.1],[13.7,23.9],[13.9,22.4],[14.1,1.6],[15.2,9.0],[15.9,22.6],[16.1,3.05],[16.3,10.6],[17.0,22.1],[19.7,22.4],[19.85,19.4]];
const step12SvmEMD = [[3.7,22.2],[4.2,21.6],[4.9,22.8],[5.9,20.7],[5.45,18.8],[6.5,16.8],[7.0,17.8],[7.2,18.75],[7.2,20.5],[7.5,20.2],[7.1,16.7],[7.3,15.0],[6.1,13.0],[8.25,18.9],[8.4,19.7],[8.7,20.0],[9.2,20.4],[9.4,12.8],[9.4,20.3],[10.1,16.2],[10.2,16.5],[10.1,20.6],[10.3,17.8],[10.5,17.3],[10.9,18.2],[10.8,17.3],[11.2,18.0],[11.6,17.4],[11.4,19.4],[11.6,13.4],[12.1,17.1],[11.9,22.4],[12.4,15.6],[12.7,15.9],[13.0,16.0],[13.3,16.0],[13.4,22.0],[12.8,14.0],[13.6,12.2],[13.6,13.8],[13.85,13.9],[13.8,12.0],[14.0,17.2],[14.1,14.5],[14.4,13.8],[14.9,18.4],[14.9,12.0],[15.1,14.3],[15.5,13.2],[14.4,23.5],[16.2,23.3],[17.3,18.2],[17.5,13.6],[17.8,12.75],[18.0,23.5],[18.05,22.4],[18.05,15.55],[18.7,18.75],[17.2,11.1],[8.5,10.7],[10.2,11.0],[11.9,11.0],[12.2,9.7],[12.9,9.7],[15.5,9.6],[16.2,8.8],[7.3,9.1],[7.15,8.2],[6.4,7.2],[9.65,8.8],[9.4,7.5],[9.5,6.7],[11.2,7.7],[11.2,6.8],[12.1,8.6],[12.45,6.3],[13.4,6.6],[14.0,7.9],[15.8,7.2],[16.6,7.1],[6.9,4.15],[4.6,3.7],[5.0,3.5],[4.7,2.8],[7.2,2.8],[6.3,1.6],[8.0,1.7],[9.0,2.1],[9.4,2.1],[9.4,1.5],[10.8,2.75],[11.35,2.1],[11.5,2.0],[11.7,4.7],[12.9,4.7]];
const step12SvmVMD = [[3.4,1.6],[3.4,2.1],[3.4,3.2],[3.7,2.9],[3.9,2.7],[4.1,2.3],[4.3,1.8],[4.4,1.4],[4.3,3.05],[4.15,3.8],[4.5,3.05],[5.0,6.3],[5.3,3.7],[5.6,4.0],[5.9,8.6],[6.1,7.35],[6.0,7.8],[6.3,4.7],[6.4,10.0],[6.5,7.8],[6.6,8.9],[6.9,11.1],[6.9,7.6],[7.1,8.2],[7.3,6.65],[7.3,8.9],[7.3,4.2],[7.5,9.7],[7.6,4.8],[7.8,7.3],[7.9,9.8],[8.0,6.9],[8.4,6.7],[9.3,10.7],[9.35,9.2],[9.7,12.1],[9.7,8.9],[10.1,11.0],[10.4,11.1],[11.0,13.2],[11.1,11.1],[11.4,16.0],[11.5,14.0],[11.9,12.1],[12.0,18.2],[12.2,15.0],[12.5,13.8],[12.6,17.8],[12.8,13.0],[12.9,14.6],[12.9,17.0],[13.2,14.4],[13.2,14.3],[13.4,19.6],[13.5,17.3],[13.6,18.9],[13.7,17.4],[13.9,17.6],[14.1,14.1],[14.3,17.9],[14.3,20.0],[14.4,16.5],[14.6,15.7],[14.7,15.6],[14.8,18.1],[14.9,16.7],[14.7,20.5],[15.0,17.8],[15.1,17.2],[15.55,19.6],[15.8,20.3],[16.0,20.5],[16.4,22.6],[16.7,22.2],[16.7,21.5],[17.0,22.35],[17.1,20.7],[17.3,22.3],[17.6,20.7],[17.85,22.5],[17.8,23.6],[18.2,23.3],[18.9,23.3]];
const step24SvmWithout = [[0,18.4],[0,17.8],[0,17.3],[0,16.5],[0,16.2],[0,15.6],[0,14.1],[0,13.4],[0,12.8],[0,11.2],[0.4,14.5],[0.5,1.7],[0.7,1.5],[0.5,0.55],[0.9,1.8],[1.3,17.6],[1.8,13.9],[1.95,0.85],[2.7,19.1],[3.25,18.1],[3.5,19.5],[3.5,22.6],[4.0,22.2],[4.55,3.1],[4.8,12.5],[5.1,12.1],[5.4,14.1],[5.6,17.8],[6.0,19.7],[6.1,9.8],[6.3,22.6],[6.1,23.65],[6.6,9.8],[5.9,6.4],[6.65,11.1],[6.7,0.4],[6.9,0.1],[7.5,20.5],[7.7,18.7],[7.6,0.85],[7.5,12.1],[7.7,17.4],[8.3,2.1],[8.5,16.05],[9.2,0.85],[9.3,18.1],[9.4,17.4],[9.6,18.1],[9.9,3.1],[9.98,6.75],[9.8,4.2],[10.1,20.0],[10.05,11.2],[10.3,17.8],[10.5,3.4],[10.7,17.3],[10.8,17.1],[11.1,13.2],[11.0,2.8],[11.1,3.8],[11.3,8.9],[11.4,19.0],[11.8,6.9],[11.8,4.9],[12.4,7.3],[12.9,15.2],[13.4,13.4],[13.7,1.6],[13.95,14.4],[13.9,23.8],[14.5,10.7],[14.4,9.7],[14.5,9.0],[14.4,8.3],[14.6,2.8],[14.6,21.8],[15.0,8.8],[15.0,22.3],[15.2,8.4],[15.2,20.4],[15.4,7.9],[16.1,7.9],[16.3,22.9],[16.3,20.8],[17.0,16.7],[17.6,8.0],[18.1,20.8]];
const step24SvmEMD = [[4.6,0.07],[4.9,0.26],[4.9,0.6],[5.1,1.0],[5.2,1.2],[5.3,0.37],[5.4,0.8],[5.6,1.4],[5.7,1.7],[5.8,1.0],[5.9,2.0],[5.6,0.15],[6.5,1.0],[4.9,4.0],[5.1,4.3],[6.0,3.0],[7.8,2.1],[8.0,2.9],[8.1,3.3],[8.5,4.9],[5.7,6.8],[6.9,7.0],[8.0,8.2],[8.9,7.6],[9.0,7.35],[7.9,16.7],[9.4,13.3],[9.8,9.3],[10.2,8.9],[10.4,7.8],[10.5,8.5],[10.5,2.85],[10.5,1.7],[11.0,7.7],[10.5,15.2],[10.7,17.8],[10.8,17.5],[11.0,10.8],[11.2,17.25],[11.5,16.4],[11.6,9.7],[11.8,18.3],[11.95,8.0],[12.0,16.1],[12.2,20.5],[12.5,13.0],[12.6,19.2],[12.85,15.7],[13.1,9.7],[13.2,9.9],[13.4,17.4],[13.4,14.0],[13.5,12.6],[13.6,16.9],[13.9,14.85],[13.9,14.1],[13.9,12.45],[14.1,13.4],[14.2,11.2],[14.2,17.25],[14.3,15.7],[14.4,19.0],[14.5,16.0],[14.7,12.3],[14.8,16.1],[15.1,19.0],[15.2,14.5],[15.25,13.4],[15.25,6.35],[15.4,17.3],[16.1,8.9],[16.1,3.1],[16.3,23.5],[16.5,17.4],[16.6,18.65],[16.7,18.4],[17.0,19.6],[17.2,11.3],[17.4,18.1],[17.5,22.6],[17.6,23.5],[17.8,17.8],[18.0,22.2],[7.3,22.4],[8.4,22.4],[8.7,22.8],[8.3,21.9],[9.15,19.8],[10.0,20.2],[10.2,20.6],[10.7,20.8],[11.0,20.8],[12.3,20.3],[13.5,20.8],[13.8,23.8],[13.9,22.7]];
const step24SvmVMD = [[3.5,0.15],[3.8,0.8],[4.0,0.07],[4.2,0.9],[4.5,1.2],[4.6,1.9],[4.7,3.2],[4.9,2.6],[5.1,1.5],[5.1,1.1],[5.3,1.2],[5.4,0.07],[5.4,2.8],[5.65,2.8],[5.9,3.75],[5.9,3.2],[6.0,3.1],[5.9,11.0],[5.8,9.8],[5.9,7.7],[6.4,8.2],[6.5,8.9],[6.5,6.3],[6.7,7.1],[6.7,9.6],[6.7,8.7],[6.9,7.9],[7.0,8.2],[7.0,6.8],[7.25,9.45],[7.1,8.35],[6.7,1.5],[6.9,0.7],[7.25,3.9],[7.75,4.3],[8.5,6.7],[9.1,4.8],[9.3,12.4],[9.9,10.55],[10.4,9.1],[10.3,13.1],[10.9,12.0],[11.2,19.6],[11.3,18.75],[11.4,17.8],[11.6,16.1],[11.6,15.1],[11.7,17.6],[12.0,17.3],[12.2,20.0],[12.2,18.3],[12.5,20.6],[12.8,18.9],[13.0,14.0],[13.2,8.9],[13.4,12.9],[13.55,11.1],[13.8,11.3],[14.0,17.5],[14.1,16.25],[14.2,17.2],[14.35,17.9],[14.7,21.7],[14.9,18.5],[14.9,12.0],[15.0,14.3],[15.1,15.7],[15.2,13.7],[15.4,16.8],[15.4,17.9],[15.6,18.8],[15.65,13.5],[15.7,16.0],[15.8,22.2],[15.9,14.4],[16.1,17.35],[16.1,20.3],[16.4,14.0],[16.5,20.5],[16.7,22.7],[16.8,22.5],[16.9,23.4],[17.0,23.7],[17.4,15.7],[17.6,22.7],[18.4,20.7],[18.7,21.9],[18.8,23.6]];

const step12LstmWithout = [[0.4,3.0],[0.4,2.5],[0.4,2.1],[0.6,1.9],[0.6,2.25],[0.7,1.7],[0.7,2.4],[1.0,4.9],[1.1,9.0],[1.2,11.2],[1.3,16.0],[1.3,17.6],[1.3,17.3],[1.3,13.4],[1.55,13.3],[1.55,16.5],[1.7,13.0],[1.8,6.8],[1.9,15.8],[1.9,11.2],[2.1,14.6],[2.2,13.6],[2.3,14.3],[2.4,15.7],[2.7,15.9],[2.6,12.2],[2.6,7.3],[2.8,15.8],[2.9,14.2],[3.0,13.6],[3.3,7.2],[3.6,18.9],[4.7,17.3],[5.2,19.8],[5.7,12.5],[5.2,2.25],[5.4,2.9],[6.2,4.9],[6.4,16.6],[7.0,6.9],[7.2,6.8],[7.5,4.3],[7.5,20.8],[7.9,4.0],[8.0,17.7],[8.4,3.8],[8.5,16.9],[8.7,9.8],[9.0,3.2],[9.2,18.2],[9.5,3.5],[9.8,1.8],[9.85,2.9],[9.85,9.8],[10.0,9.0],[10.2,17.6],[10.4,8.0],[10.4,18.0],[10.7,7.7],[10.9,9.7],[11.0,9.1],[11.1,7.3],[11.3,8.5],[11.5,8.0],[11.5,10.9],[11.7,11.2],[11.4,15.2],[11.5,19.1],[11.8,13.2],[12.1,17.9],[12.2,17.4],[12.5,20.7],[13.0,16.0],[13.0,20.2],[13.3,14.2],[13.4,18.3],[13.4,12.1],[13.85,18.7],[14.5,19.0],[14.7,18.3],[14.7,6.5],[15.7,20.9],[16.2,19.0],[17.1,3.25],[18.1,19.6],[18.4,22.4],[18.4,22.7],[18.6,23.8],[20.1,20.5],[19.9,22.9],[22.6,22.4],[23.3,20.5],[24.5,21.8]];
const step12LstmEMD = [[4.35,2.25],[5.8,2.9],[6.3,3.5],[6.3,1.7],[6.8,3.9],[6.9,4.2],[7.1,2.8],[7.2,3.2],[7.3,4.8],[7.5,2.8],[7.8,4.35],[7.4,6.9],[7.0,7.05],[7.5,7.6],[7.7,8.7],[7.9,8.3],[8.0,9.15],[8.1,8.0],[8.25,9.45],[8.25,10.0],[8.0,1.9],[8.25,2.1],[8.5,2.5],[8.8,2.1],[9.4,1.6],[10.2,2.9],[8.25,12.6],[8.4,16.1],[8.4,16.4],[8.5,16.5],[8.8,15.7],[9.0,13.1],[9.0,14.4],[9.1,14.1],[9.4,11.0],[9.6,13.4],[9.7,10.7],[10.0,15.9],[10.2,15.1],[10.5,14.2],[11.05,13.1],[11.0,12.2],[11.2,4.8],[11.5,6.5],[11.8,17.7],[12.4,13.4],[12.5,3.2],[12.7,6.9],[13.0,9.0],[13.3,17.3],[13.3,11.1],[13.4,18.9],[13.4,17.4],[13.85,17.1],[14.0,13.1],[14.1,13.6],[14.3,15.6],[14.4,16.1],[14.3,7.2],[14.4,19.85],[14.5,7.4],[14.7,20.1],[14.7,18.4],[14.9,16.9],[14.9,12.1],[15.1,14.1],[15.25,19.1],[15.3,20.6],[15.4,18.1],[15.5,17.7],[16.0,22.65],[16.2,20.4],[17.5,22.2],[17.7,21.8],[18.05,20.4],[18.2,23.8],[18.6,22.9],[18.8,23.5],[18.9,21.6],[18.9,17.4],[19.1,20.8],[19.75,18.7],[19.75,23.8],[20.0,19.1],[20.2,18.5],[20.5,22.65]];
const step12LstmVMD = [[3.4,1.6],[4.1,2.1],[4.4,2.0],[4.8,1.8],[5.0,2.1],[5.4,2.9],[6.3,3.0],[6.5,4.9],[6.65,1.7],[6.9,3.4],[7.0,3.9],[7.2,3.1],[7.4,3.6],[7.6,4.2],[7.8,4.9],[8.1,6.9],[8.3,7.05],[9.2,8.15],[9.5,8.5],[10.0,6.9],[10.2,7.3],[10.6,8.9],[10.9,7.3],[11.0,8.3],[11.1,3.2],[11.1,9.7],[11.3,8.7],[11.45,8.15],[11.45,9.45],[11.7,6.5],[12.1,11.1],[12.3,10.0],[12.6,9.3],[12.9,12.6],[13.0,11.3],[13.0,13.3],[13.3,12.4],[13.5,12.1],[13.7,13.1],[14.0,10.7],[14.2,13.8],[14.0,14.4],[14.8,13.5],[15.4,15.7],[15.5,14.3],[15.7,14.1],[15.9,15.8],[15.9,13.1],[16.1,11.1],[16.3,15.2],[16.5,17.6],[16.7,17.6],[17.0,13.4],[17.0,15.35],[17.1,16.5],[17.2,15.9],[17.6,12.1],[18.1,16.1],[18.3,19.6],[18.3,18.4],[18.5,18.7],[18.5,17.4],[18.85,18.1],[19.2,18.4],[19.4,18.0],[19.7,20.3],[20.4,17.4],[20.7,20.1],[20.7,20.6],[20.8,20.2],[21.1,16.75],[21.3,18.1],[21.4,17.0],[21.6,21.1],[21.8,20.6],[21.9,16.75],[22.2,22.5],[22.3,19.8],[22.4,17.6],[22.5,18.0],[22.7,17.9],[22.7,19.1],[22.9,23.5],[23.65,23.8],[23.65,21.8],[23.9,23.8],[24.0,22.4],[24.2,20.6],[24.8,22.9]];
const step24LstmWithout = [[0,1.7],[0,1.3],[0,0.95],[0,0.6],[0.2,0.2],[0.6,0],[1.2,0],[2.2,0.3],[3.1,1.1],[4.0,0.95],[4.8,0.95],[5.2,2.1],[5.8,2.8],[6.0,3.2],[6.6,3.2],[6.3,4.8],[6.4,6.8],[6.5,6.4],[7.0,4.2],[8.0,4.0],[8.2,3.7],[8.2,2.9],[8.9,1.75],[9.8,2.9],[3.0,10.4],[3.1,11.1],[2.5,8.9],[3.0,8.9],[2.75,9.85],[3.25,9.7],[3.25,10.2],[3.4,12.9],[3.5,12.4],[3.1,12.2],[3.25,11.9],[3.3,13.7],[3.4,14.2],[3.5,14.25],[4.3,13.2],[4.55,12.0],[4.8,13.85],[5.0,15.5],[5.1,18.6],[5.3,19.5],[5.6,19.1],[5.8,18.9],[6.1,17.85],[6.1,18.5],[5.6,17.4],[6.9,18.2],[7.6,17.7],[8.1,18.6],[7.8,18.0],[9.6,17.1],[9.9,18.9],[10.1,18.6],[2.2,17.3],[2.4,16.9],[2.3,16.4],[2.7,16.1],[2.75,15.85],[3.2,15.4],[3.25,15.7],[2.5,12.8],[2.9,12.0],[2.95,10.9],[3.3,14.4],[3.25,23.4],[3.7,23.5],[3.0,23.1],[3.5,22.0],[3.5,21.85],[5.3,22.2],[11.2,20.3],[12.3,19.85],[13.2,18.1],[13.0,17.85],[12.8,17.4],[13.2,18.9],[13.2,18.7],[14.0,15.85],[14.0,15.05],[14.5,13.9],[14.5,11.9],[13.2,13.0],[14.8,10.7],[14.1,9.5],[10.9,8.9],[12.3,7.7],[13.2,8.0],[15.0,8.2],[15.4,8.4],[15.7,8.0],[15.5,7.5],[15.8,7.2],[16.3,17.1],[17.1,20.2],[19.0,21.5],[21.5,22.0],[21.7,20.4],[23.2,22.6],[23.4,20.5],[9.8,17.0],[11.6,16.7]];
const step24LstmEMD = [[13.4,0],[13.5,0.2],[13.6,0.5],[13.7,0.75],[13.7,1.0],[13.8,1.3],[13.9,1.6],[14.0,1.85],[14.1,2.0],[14.1,2.4],[14.3,2.8],[14.5,3.05],[15.9,1.7],[16.1,3.1],[16.3,3.5],[16.0,2.7],[15.4,3.9],[15.6,4.9],[15.2,5.7],[15.2,6.2],[15.4,6.8],[15.7,6.9],[15.4,7.2],[14.8,7.7],[14.5,7.85],[14.3,8.2],[14.3,8.4],[14.1,9.6],[14.8,8.15],[15.0,8.2],[15.9,8.9],[15.9,9.2],[16.3,10.6],[17.2,14.95],[17.4,13.0],[18.6,17.7],[18.9,17.3],[19.2,17.1],[18.85,18.7],[19.0,18.8],[19.6,19.3],[19.8,20.1],[19.7,18.2],[20.0,19.3],[20.3,11.85],[20.5,19.85],[20.8,18.0],[21.0,20.1],[21.1,20.2],[21.3,19.5],[21.6,16.5],[21.8,21.5],[21.85,20.9],[22.2,18.0],[22.5,17.5],[22.7,17.85],[22.6,17.5],[23.2,22.0],[24.5,22.6],[26.2,20.5],[27.8,20.5],[26.9,9.7],[27.1,16.3],[27.1,13.75],[27.3,12.0],[27.1,10.9],[27.5,13.2],[27.5,14.0],[27.75,12.75],[28.0,16.2],[28.2,17.3],[28.5,18.1],[28.6,18.3],[28.8,18.8],[29.1,14.8],[29.3,8.9],[29.0,15.5],[29.3,22.3],[29.8,23.4],[30.3,23.3],[30.4,22.1],[30.7,13.85],[30.8,22.0],[31.0,19.3],[31.0,12.4],[31.3,9.3],[31.5,9.75],[31.7,10.9],[31.9,6.4],[31.7,3.1],[29.25,18.8]];
const step24LstmVMD = [[6.0,0.95],[7.45,1.3],[7.95,1.5],[8.2,0.95],[8.5,2.2],[8.5,1.75],[8.7,0.75],[8.9,0.3],[9.2,0.2],[9.4,0.6],[9.5,0.15],[10.5,0.35],[10.3,2.95],[12.1,2.95],[12.3,3.7],[12.5,3.85],[12.5,6.95],[13.2,4.3],[13.95,8.9],[13.95,3.3],[14.2,1.7],[14.5,8.3],[14.5,7.9],[14.7,2.95],[14.8,6.8],[14.7,12.0],[14.8,14.2],[13.9,13.2],[15.7,11.1],[15.9,9.75],[16.3,10.8],[16.7,8.6],[16.85,7.6],[17.0,8.2],[17.0,10.95],[17.1,9.6],[17.35,9.4],[17.6,10.0],[17.6,8.9],[17.6,3.2],[17.7,8.2],[17.9,6.4],[17.9,7.85],[16.6,13.85],[17.0,12.2],[17.35,15.5],[18.15,14.8],[18.3,17.1],[18.4,17.3],[18.6,16.15],[18.8,10.8],[18.9,15.7],[19.2,13.4],[19.3,12.8],[19.4,13.4],[19.5,14.4],[19.7,13.7],[19.9,14.1],[19.9,11.05],[20.1,18.2],[20.2,18.4],[20.6,15.05],[21.0,18.8],[21.1,19.3],[21.3,18.8],[21.5,18.2],[21.5,17.1],[21.7,13.85],[22.4,15.7],[22.6,12.0],[22.8,15.7],[23.1,20.4],[23.3,18.0],[23.5,18.0],[23.35,17.0],[23.6,21.5],[23.9,22.3],[24.1,19.1],[24.2,20.65],[24.3,20.2],[24.2,13.85],[24.4,23.3],[24.6,23.1],[24.8,22.3],[24.9,23.6],[25.1,22.0],[25.2,21.5],[25.45,16.65],[25.5,22.1],[25.8,22.6],[26.0,20.3],[26.0,23.2],[26.2,20.2],[26.2,20.6],[26.6,17.85],[27.1,18.95],[27.5,19.5],[28.3,17.5],[28.3,16.6],[29.1,17.6]];

// panel grid: rows Elman/SVM/LSTM for steps 1 & 6, then steps 12 & 24
const panels = [
  [step1ElmanWithout, step1ElmanEMD, step1ElmanVMD, step6ElmanWithout, step6ElmanEMD, step6ElmanVMD],
  [step1SvmWithout, step1SvmEMD, step1SvmVMD, step6SvmWithout, step6SvmEMD, step6SvmVMD],
  [step1LstmWithout, step1LstmEMD, step1LstmVMD, step6LstmWithout, step6LstmEMD, step6LstmVMD],
  [step12ElmanWithout, step12ElmanEMD, step12ElmanVMD, step24ElmanWithout, step24ElmanEMD, step24ElmanVMD],
  [step12SvmWithout, step12SvmEMD, step12SvmVMD, step24SvmWithout, step24SvmEMD, step24SvmVMD],
  [step12LstmWithout, step12LstmEMD, step12LstmVMD, step24LstmWithout, step24LstmEMD, step24LstmVMD]
];
// x-axis upper limit of each panel (one panel runs a little past 30)
const xLimits = [
  [30, 30, 30, 30, 30, 30],
  [30, 30, 30, 30, 30, 30],
  [30, 30, 30, 30, 30, 30],
  [30, 30, 30, 30, 30, 30],
  [30, 30, 30, 30, 30, 30],
  [30, 30, 30, 30, 36, 30]
];

// ===== layout (page pixels) =====
const colLeft = [242, 657, 1072, 1545, 1962, 2371];
const rowBottom = [
  [416, 416, 421, 420, 424, 424],
  [763, 763, 765, 769, 769, 769],
  [1106, 1106, 1110, 1106, 1114, 1114],
  [1507, 1509, 1508, 1510, 1510, 1512],
  [1859, 1858, 1861, 1861, 1862, 1854],
  [2212, 2212, 2212, 2212, 2212, 2212]
];
const PLOT_W = 342, PLOT_H = 273;
const PAD_L = 60, PAD_R = 40, PAD_T = 30, PAD_B = 60;
const SERIF = "'Liberation Serif', 'Times New Roman', serif";

const page = document.getElementById('page');

function addLabel(text, x, y, extraClass) {
  const d = document.createElement('div');
  d.className = 'lbl' + (extraClass ? ' ' + extraClass : '');
  d.textContent = text;
  d.style.left = x + 'px';
  d.style.top = y + 'px';
  page.appendChild(d);
}

// small inward tick marks, like the original axes
const innerTicks = {
  id: 'innerTicks',
  afterDraw(chart) {
    const { ctx, chartArea, scales } = chart;
    ctx.save();
    ctx.strokeStyle = '#000';
    ctx.lineWidth = 1.5;
    tickValues.forEach(v => {
      if (v === 0) return;
      const px = scales.x.getPixelForValue(v);
      ctx.beginPath(); ctx.moveTo(px, chartArea.bottom); ctx.lineTo(px, chartArea.bottom - 5); ctx.stroke();
      const py = scales.y.getPixelForValue(v);
      ctx.beginPath(); ctx.moveTo(chartArea.left, py); ctx.lineTo(chartArea.left + 5, py); ctx.stroke();
    });
    ctx.restore();
  }
};

function axisOptions(max, isX) {
  return {
    type: 'linear',
    min: 0,
    max: max,
    afterBuildTicks: s => { s.ticks = tickValues.map(v => ({ value: v })); },
    afterFit: s => { if (isX) s.height = PAD_B; else s.width = PAD_L; },
    grid: { display: false, drawTicks: false },
    border: { display: true, color: '#000', width: 2.4 },
    ticks: {
      color: '#000',
      font: { family: SERIF, size: 35 },
      padding: isX ? 9 : -2,
      labelOffset: isX ? 8 : 4,
      maxRotation: 0,
      autoSkip: false
    }
  };
}

panels.forEach((row, r) => {
  row.forEach((pts, c) => {
    const cv = document.createElement('canvas');
    const W = PAD_L + PLOT_W + PAD_R, H = PAD_T + PLOT_H + PAD_B;
    cv.width = W; cv.height = H;
    cv.style.width = W + 'px'; cv.style.height = H + 'px';
    cv.style.left = (colLeft[c] - PAD_L) + 'px';
    cv.style.top = (rowBottom[r][c] - PLOT_H - PAD_T) + 'px';
    page.appendChild(cv);

    new Chart(cv, {
      type: 'scatter',
      data: {
        datasets: [{
          data: pts.map(p => ({ x: p[0], y: p[1] })),
          pointStyle: 'circle',
          pointRadius: 3.3,
          pointBorderWidth: 1.9,
          pointBorderColor: '#0000ff',
          pointBackgroundColor: 'rgba(0,0,0,0)',
          clip: false
        }]
      },
      options: {
        responsive: false,
        animation: false,
        layout: { padding: { top: PAD_T, right: PAD_R, left: 0, bottom: 0 } },
        plugins: { legend: { display: false }, tooltip: { enabled: false } },
        scales: {
          x: axisOptions(xLimits[r][c], true),
          y: axisOptions(30, false)
        }
      },
      plugins: [innerTicks]
    });
  });
});

// column titles
[[419, 55], [836, 58], [1254, 59], [1717, 65], [2136, 67], [2540, 69]].forEach((p, i) => {
  addLabel(methods[i % 3], p[0], p[1]);
});
// model names on the right
[[2860, 283], [2858, 625], [2868, 964], [2868, 1374], [2872, 1712], [2880, 2068]].forEach((p, i) => {
  addLabel(models[i % 3], p[0], p[1]);
});
// step captions
[[838, 1191], [2072, 1191], [853, 2302], [2105, 2298]].forEach((p, i) => {
  addLabel(steps[i], p[0], p[1]);
});
// axis titles
addLabel('Actual Value (MW)', 53, 1163, 'ylab');
addLabel('Forecast Value (MW)', 1508, 2395);
</script>
</body>
</html>
